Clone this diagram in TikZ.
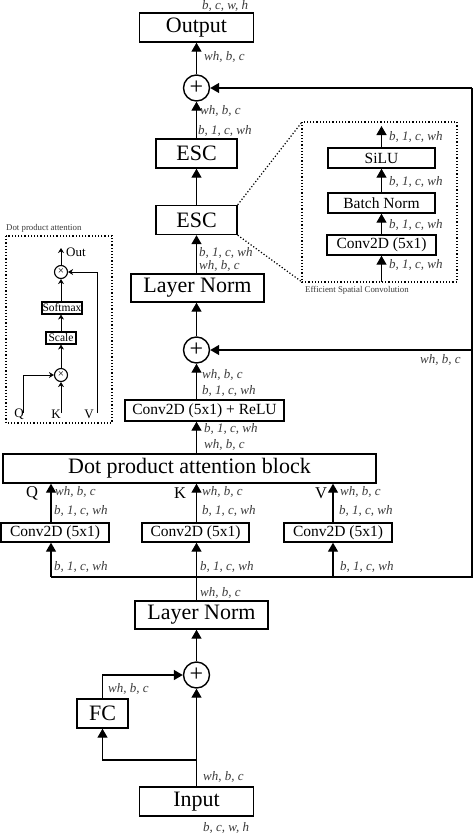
\documentclass[tikz,border=0pt]{standalone}
\usepackage{fontspec}
\setmainfont{Liberation Serif}
\usetikzlibrary{arrows.meta}
\definecolor{labc}{HTML}{3A3A3A}
\begin{document}
\begin{tikzpicture}[x=1pt,y=-1pt,
  box/.style={draw, line width=1.4pt, inner sep=0pt},
  bigbox/.style={box, font=\fontsize{22}{22}\selectfont},
  midbox/.style={box, font=\fontsize{15.5}{15.5}\selectfont},
  smallbox/.style={box, line width=1.2pt, font=\fontsize{11.5}{11.5}\selectfont},
  plusnode/.style={draw, circle, line width=1.4pt, minimum size=26pt, inner sep=0pt, font=\fontsize{24}{24}\selectfont},
  timesnode/.style={draw, circle, line width=1.1pt, minimum size=13pt, inner sep=0pt, font=\fontsize{11}{11}\selectfont},
  lab/.style={inner sep=0pt, anchor=west, text=labc, font=\fontsize{13}{13}\selectfont\itshape},
  tiny/.style={inner sep=0pt, anchor=west, text=labc, font=\fontsize{8.8}{8.8}\selectfont},
  qkv/.style={inner sep=0pt, font=\fontsize{16.5}{16.5}\selectfont},
  sqkv/.style={inner sep=0pt, font=\fontsize{13}{13}\selectfont},
  arr/.style={line width=1.4pt, -{Triangle[length=9pt,width=10pt]}},
  sarr/.style={line width=1pt, -{Stealth[length=5pt,width=6pt]}},
  ln/.style={line width=1.4pt},
  dots/.style={line width=1.2pt, dash pattern=on 1.2pt off 2pt}
]
\useasboundingbox (0,0) rectangle (474,835);
\coordinate (mx) at (196.5,0);

% main nodes
\node[bigbox, minimum width=114pt, minimum height=29pt] (out) at (196.5,27.5) {Output};
\node[plusnode] (p1) at (196.5,88) {+};
\node[bigbox, minimum width=81pt, minimum height=29pt] (esc2) at (196.5,153.5) {ESC};
\node[bigbox, minimum width=81pt, minimum height=29pt] (esc1) at (196.5,220) {ESC};
\node[bigbox, minimum width=133pt, minimum height=28pt] (ln2) at (197.5,288) {Layer Norm};
\node[plusnode] (p2) at (196.5,350) {+};
\node[midbox, minimum width=159pt, minimum height=21pt] (crelu) at (204.5,410.5) {Conv2D (5x1) + ReLU};
\node[bigbox, minimum width=373pt, minimum height=29pt] (dpa) at (189.5,468.5) {Dot product attention block};
\node[midbox, minimum width=108pt, minimum height=19pt] (cq) at (55,532.5) {Conv2D (5x1)};
\node[midbox, minimum width=107pt, minimum height=19pt] (ck) at (195.5,532.5) {Conv2D (5x1)};
\node[midbox, minimum width=108pt, minimum height=19pt] (cv) at (338,532.5) {Conv2D (5x1)};
\node[bigbox, minimum width=133pt, minimum height=28pt] (ln1) at (201.5,615) {Layer Norm};
\node[plusnode] (p3) at (196.5,675) {+};
\node[bigbox, minimum width=51pt, minimum height=29pt] (fc) at (102.5,713.5) {FC};
\node[bigbox, minimum width=114pt, minimum height=29pt] (inp) at (196.5,801.5) {Input};

% main connectors
\draw[arr] (p1.north) -- (out.south);
\draw[arr] (esc2.north) -- (p1.south);
\draw[arr] (esc1.north) -- (esc2.south);
\draw[arr] (ln2.north -| mx) -- (esc1.south);
\draw[arr] (p2.north) -- (ln2.south -| mx);
\draw[arr] (crelu.north -| mx) -- (p2.south);
\draw[arr] (dpa.north -| mx) -- (crelu.south -| mx);

\coordinate (xq) at (51,0);
\coordinate (xv) at (333,0);
\coordinate (jr) at (472,577);
\coordinate (jq) at (51,577);
\coordinate (jv) at (333,577);
\draw[arr] (cq.north -| xq) -- (dpa.south -| xq);
\draw[arr] (ck.north -| mx) -- (dpa.south -| mx);
\draw[arr] (cv.north -| xv) -- (dpa.south -| xv);
\draw[ln] (jq) -- (jr) -- (jr |- p1);
\draw[arr] (jr |- p1) -- (p1.east);
\draw[arr] (jr |- p2) -- (p2.east);
\draw[arr] (jq) -- (cq.south -| xq);
\draw[arr] (jv) -- (cv.south -| xv);
\draw[arr] (ln1.north -| mx) -- (ck.south -| mx);
\draw[arr] (p3.north) -- (ln1.south -| mx);
\coordinate (jb) at (196.5,760);
\draw[arr] (inp.north) -- (p3.south);
\draw[arr] (jb) -- (jb -| fc.south) -- (fc.south);
\draw[arr] (fc.north) -- (fc.north |- p3) -- (p3.west);

% main labels
\node[lab] (l01) at (202,6) {b, c, w, h};
\node[lab] (l02) at (204,57) {wh, b, c};
\node[lab] (l03) at (200,111) {wh, b, c};
\node[lab] (l04) at (198,131) {b, 1, c, wh};
\node[lab] (l05) at (199,253) {b, 1, c, wh};
\node[lab] (l06) at (199,266) {wh, b, c};
\node[lab] (l07) at (420,360) {wh, b, c};
\node[lab] (l08) at (202,375) {wh, b, c};
\node[lab] (l09) at (202,391) {b, 1, c, wh};
\node[lab] (l10) at (204,429) {b, 1, c, wh};
\node[lab] (l11) at (204,445) {wh, b, c};
\node[lab] (l12) at (55,492) {wh, b, c};
\node[lab] (l13) at (202,492) {wh, b, c};
\node[lab] (l14) at (340,492) {wh, b, c};
\node[lab] (l15) at (54,511) {b, 1, c, wh};
\node[lab] (l16) at (202,511) {b, 1, c, wh};
\node[lab] (l17) at (339,511) {b, 1, c, wh};
\node[lab] (l18) at (54,567) {b, 1, c, wh};
\node[lab] (l19) at (200,567) {b, 1, c, wh};
\node[lab] (l20) at (340,567) {b, 1, c, wh};
\node[lab] (l21) at (200,593) {wh, b, c};
\node[lab] (l22) at (108,689) {wh, b, c};
\node[lab] (l23) at (203,777) {wh, b, c};
\node[lab] (l24) at (203,828) {b, c, w, h};
\node[qkv] (tq) at (32,493) {Q};
\node[qkv] (tk) at (180,493) {K};
\node[qkv] (tv) at (321,493) {V};

% ESC inset
\coordinate (etl) at (302,122);
\coordinate (ebl) at (302,282);
\draw[dots] (etl) rectangle (457,282);
\draw[dots] (esc1.north east) -- (etl);
\draw[dots] (esc1.south east) -- (ebl);
\node[tiny] (etitle) at (305,290) {Efficient Spatial Convolution};
\node[midbox, minimum width=107pt, minimum height=20pt] (silu) at (381.5,158) {SiLU};
\node[midbox, minimum width=107pt, minimum height=20pt] (bn) at (381.5,203) {Batch Norm};
\node[midbox, minimum width=109pt, minimum height=20pt] (cconv) at (381.5,245) {Conv2D (5x1)};
\coordinate (ein) at (381.5,282);
\coordinate (eout) at (381.5,126);
\draw[arr] (ein) -- (cconv.south);
\draw[arr] (cconv.north) -- (bn.south);
\draw[arr] (bn.north) -- (silu.south);
\draw[arr] (silu.north) -- (eout);
\node[lab] (e1) at (389,137) {b, 1, c, wh};
\node[lab] (e2) at (389,182) {b, 1, c, wh};
\node[lab] (e3) at (389,225) {b, 1, c, wh};
\node[lab] (e4) at (389,265) {b, 1, c, wh};

% Dot product attention inset
\draw[dots] (6,236) rectangle (112,423);
\node[tiny] (dtitle) at (6,228) {Dot product attention};
\node[timesnode] (o2) at (61,272) {×};
\node[timesnode] (o1) at (61,375) {×};
\node[smallbox, minimum width=40pt, minimum height=12pt] (soft) at (62,308) {Softmax};
\node[smallbox, minimum width=30pt, minimum height=12pt] (scale) at (61,338) {Scale};
\coordinate (dout) at (61,248);
\node[inner sep=0pt, anchor=west, font=\fontsize{13}{13}\selectfont] (tout) at (66,252) {Out};
\coordinate (bq) at (23,413);
\coordinate (bk) at (61,413);
\coordinate (bv) at (97,413);
\draw[sarr] (o2.north) -- (dout);
\draw[sarr] (soft.north -| o2) -- (o2.south);
\draw[sarr] (scale.north) -- (soft.south -| scale);
\draw[sarr] (o1.north) -- (scale.south);
\draw[sarr] (bk) -- (o1.south);
\draw[sarr] (bq) -- (bq |- o1) -- (o1.west);
\draw[sarr] (bv) -- (bv |- o2) -- (o2.east);
\node[sqkv] (sq) at (19,414) {Q};
\node[sqkv] (sk) at (56,414) {K};
\node[sqkv] (sv) at (89,414) {V};
\end{tikzpicture}
\end{document}
